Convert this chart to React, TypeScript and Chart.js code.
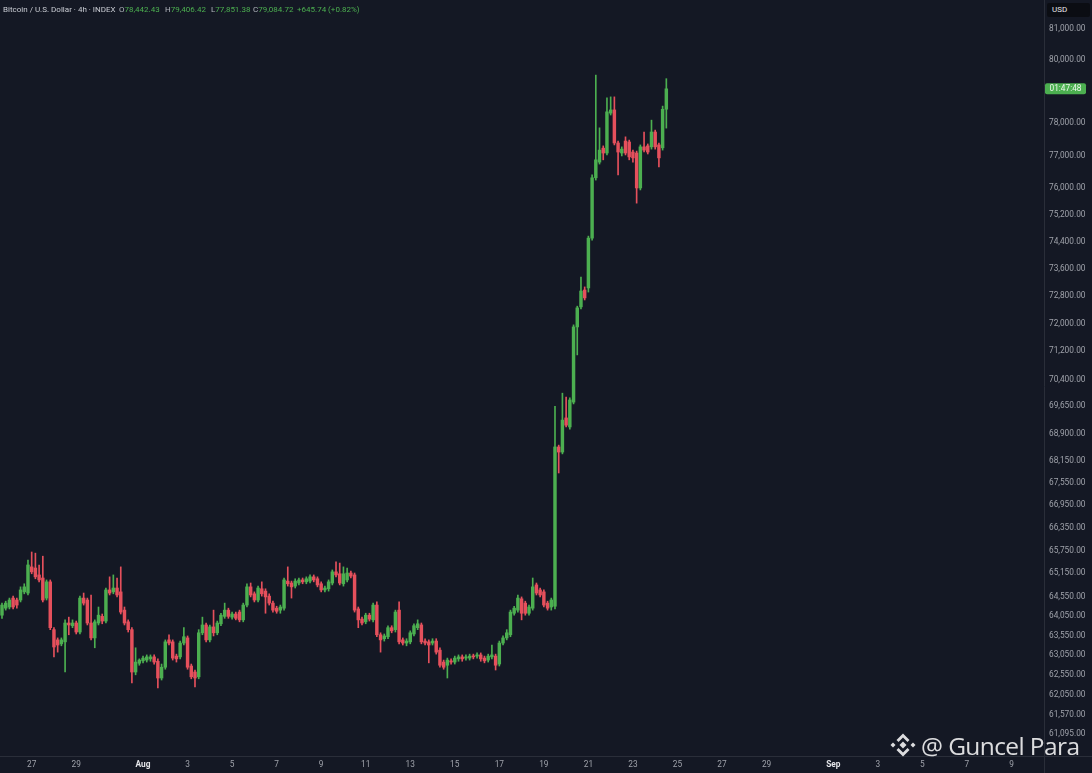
import { useEffect, useRef } from "react";
import { Chart, registerables, type Plugin } from "chart.js";

Chart.register(...registerables);

// 4h candles, x measured in days from Jul 27 00:00
const FIRST_BAR_DAY = -4 / 3; // Jul 25 16:00
const BAR_DAYS = 1 / 6;

const OPEN = [
  64070, 64250, 64280, 64510, 64460, 64460, 64670, 64640, 65320, 65290,
  65110, 65030, 64510, 64930, 63700, 63440, 63340, 63390, 63870, 63800,
  63870, 63640, 64510, 64460, 63870, 63490, 63870, 64040, 63920, 64720,
  64670, 64770, 64670, 64200, 63900, 63700, 62630, 62850, 62910, 62930,
  62960, 63010, 62900, 62480, 62750, 63440, 63390, 63030, 63010, 63360,
  63490, 62780, 62630, 62510, 63620, 63820, 63440, 63770, 63620, 63850,
  64040, 64200, 64020, 64100, 64150, 63950, 64330, 64800, 64620, 64460,
  64750, 64690, 64560, 64380, 64250, 64200, 64250, 64950, 64900, 64820,
  64900, 64980, 64930, 64950, 65060, 65010, 64880, 64720, 64750, 64900,
  65190, 65140, 64880, 64980, 65160, 65110, 64230, 63970, 63900, 64070,
  63950, 64330, 63570, 63470, 63520, 63750, 63700, 64200, 63440, 63360,
  63390, 63590, 63750, 63820, 63410, 63390, 63360, 63410, 63180, 62880,
  62800, 62910, 62880, 62960, 63010, 62980, 62980, 63030, 63030, 63060,
  62980, 62930, 63010, 63030, 62830, 63360, 63490, 63570, 64120, 64200,
  64490, 64380, 64120, 64250, 64850, 64720, 64670, 64380, 64280, 64300,
  68530, 68390, 69330, 69080, 69770, 71900, 72480, 72970, 73030, 74500,
  76320, 76800, 77230, 77080, 78320, 78420, 77390, 77080, 77450, 77420,
  77110, 77080, 76010, 77270, 77300, 77270, 77730, 77330, 77240, 78442.43,
];
const HIGH = [
  64380, 64430, 64510, 64560, 64510, 64800, 64880, 65500, 65710, 65680,
  65370, 65600, 64980, 64980, 63750, 63490, 63490, 63950, 64020, 63950,
  63920, 64560, 64640, 64510, 64590, 63950, 64280, 64100, 64770, 65060,
  65110, 65030, 65320, 64280, 63950, 63750, 63240, 62960, 63030, 63060,
  63060, 63060, 62960, 62830, 63440, 63570, 63440, 63080, 63410, 63750,
  63540, 62830, 62680, 63700, 64020, 63870, 63820, 64200, 63920, 64120,
  64380, 64250, 64150, 64150, 64200, 64380, 64880, 64900, 64670, 64820,
  64930, 64750, 64620, 64430, 64300, 64330, 65030, 65320, 64950, 65010,
  65030, 65030, 65060, 65110, 65110, 65060, 64930, 64820, 64980, 65240,
  65450, 65420, 65320, 65290, 65210, 65160, 64280, 64020, 64120, 64120,
  64380, 64410, 63620, 63590, 63800, 63800, 64200, 64410, 63490, 63470,
  63670, 63850, 63950, 63870, 63470, 63440, 63470, 63470, 63240, 62930,
  62980, 62960, 63030, 63060, 63060, 63060, 63080, 63080, 63110, 63110,
  63030, 63080, 63310, 63080, 63410, 63540, 63700, 64200, 64300, 64590,
  64540, 64430, 64330, 65030, 64900, 64770, 64720, 64430, 64510, 69650,
  68580, 70020, 69910, 69890, 71960, 72500, 73350, 73060, 74560, 76410,
  79520, 77860, 77300, 78800, 78830, 78830, 77450, 77270, 77580, 77480,
  77170, 77140, 77330, 77730, 77360, 78100, 77790, 77390, 78540, 79406.42,
];
const LOW = [
  63990, 64200, 64230, 64230, 64250, 64410, 64620, 64590, 65140, 65010,
  64930, 64410, 64460, 63700, 63010, 63130, 63290, 62630, 63570, 63750,
  63590, 63590, 64330, 63820, 63440, 63240, 63820, 63850, 63870, 64590,
  64620, 64540, 64100, 63820, 63640, 62360, 62560, 62800, 62860, 62880,
  62900, 62830, 62230, 62430, 62700, 63310, 62930, 62880, 62960, 63310,
  62700, 62460, 62260, 62460, 63570, 63390, 63390, 63540, 63570, 63800,
  63990, 63990, 63970, 63950, 63900, 63900, 64280, 64540, 64410, 64410,
  64560, 64120, 64330, 64150, 64120, 64120, 64200, 64820, 64510, 64770,
  64850, 64880, 64880, 64900, 64930, 64800, 64670, 64670, 64690, 64850,
  65060, 64850, 64820, 64930, 65030, 64150, 63750, 63820, 63850, 63920,
  63900, 63520, 63130, 63410, 63470, 63620, 63640, 63340, 63310, 63290,
  63340, 63540, 63700, 63340, 63310, 62860, 63310, 63080, 62750, 62700,
  62480, 62830, 62830, 62900, 62900, 62930, 62930, 62960, 62980, 62900,
  62860, 62880, 62960, 62680, 62780, 63310, 63440, 63520, 64070, 64150,
  63950, 64070, 64070, 64200, 64590, 64540, 64280, 64200, 64200, 64230,
  67820, 68340, 69080, 69020, 69720, 71100, 72420, 72680, 72910, 74440,
  76250, 76740, 76870, 77020, 78260, 77330, 76410, 76990, 77020, 76870,
  76800, 75550, 75950, 77110, 77050, 77200, 77200, 76650, 77170, 77851.38,
];
const CLOSE = [
  64330, 64380, 64460, 64280, 64330, 64720, 64800, 65370, 65190, 65060,
  64980, 64460, 64930, 63750, 63260, 63310, 63440, 63870, 63820, 63870,
  63640, 64510, 64380, 63870, 63490, 63900, 64070, 63920, 64720, 64640,
  64770, 64590, 64150, 63870, 63700, 62630, 62880, 62930, 62980, 63010,
  63010, 62880, 62480, 62750, 63390, 63360, 62980, 62960, 63360, 63520,
  62750, 62510, 62480, 63620, 63820, 63440, 63770, 63620, 63870, 64070,
  64200, 64040, 64100, 63990, 63950, 64330, 64800, 64590, 64460, 64770,
  64620, 64540, 64380, 64200, 64170, 64280, 64980, 64880, 64800, 64950,
  64980, 64930, 65010, 65060, 64980, 64850, 64720, 64770, 64930, 65190,
  65110, 64900, 65140, 65160, 65080, 64200, 63950, 63870, 64070, 63970,
  64330, 63570, 63440, 63540, 63750, 63670, 64150, 63390, 63360, 63410,
  63620, 63800, 63850, 63390, 63360, 63310, 63410, 63130, 62800, 62750,
  62930, 62880, 62980, 63010, 62960, 63010, 63030, 63010, 63060, 62960,
  62910, 63030, 63060, 62800, 63360, 63490, 63620, 64150, 64250, 64510,
  64120, 64120, 64280, 64800, 64640, 64590, 64330, 64250, 64460, 68530,
  68390, 69270, 69130, 69830, 71900, 72450, 72940, 72740, 74500, 76320,
  76870, 77170, 77080, 78360, 78420, 77390, 77110, 77200, 77080, 76960,
  76930, 76010, 77270, 77170, 77110, 77730, 77270, 76930, 78440, 79084.72,
];

const Y_TICKS = [
  81000, 80000, 78000, 77000, 76000, 75200, 74400, 73600, 72800, 72000,
  71200, 70400, 69650, 68900, 68150, 67550, 66950, 66350, 65750, 65150,
  64550, 64050, 63550, 63050, 62550, 62050, 61570, 61095,
];
const Y_MIN = 60561;
const Y_MAX = 81945;

const X_TICK_DAYS = [0, 2, 5, 7, 9, 11, 13, 15, 17, 19, 21, 23, 25, 27, 29, 31, 33, 36, 38, 40, 42, 44];
const X_TICK_LABELS = ["27", "29", "Aug", "3", "5", "7", "9", "11", "13", "15", "17", "19", "21", "23", "25", "27", "29", "Sep", "3", "5", "7", "9"];
const MONTHS = ["Aug", "Sep"];
const X_MIN = -1.423;
const X_MAX = 45.46;

const TITLE = "Bitcoin / U.S. Dollar · 4h · INDEX";
const LAST_OHLC = [
  { k: "O", v: "78,442.43", x: 119 },
  { k: "H", v: "79,406.42", x: 165 },
  { k: "L", v: "77,851.38", x: 211 },
  { k: "C", v: "79,084.72", x: 253 },
];
const CHANGE = "+645.74 (+0.82%)";
const COUNTDOWN = "01:47:48";

const BG = "#141824";
const UP = "#4caf50";
const DOWN = "#e5505c";
const AXIS_TEXT = "#9fa2aa";
const LINE = "#2a2e39";
const FONT = "Roboto, 'Noto Sans', sans-serif";

const framePlugin: Plugin<"bar"> = {
  id: "frame",
  afterDraw(chart) {
    const { ctx, chartArea, width, height, scales } = chart;
    const bottom = Math.round(chartArea.bottom) + 0.5;
    const right = Math.round(chartArea.right) + 0.5;
    ctx.save();
    ctx.strokeStyle = LINE;
    ctx.lineWidth = 1;
    ctx.beginPath();
    ctx.moveTo(0, bottom);
    ctx.lineTo(width, bottom);
    ctx.moveTo(right, 0);
    ctx.lineTo(right, height);
    ctx.stroke();

    // last price / countdown label
    const y = scales.y.getPixelForValue(CLOSE[CLOSE.length - 1]);
    ctx.fillStyle = UP;
    ctx.beginPath();
    ctx.roundRect(right + 0.5, y - 5.5, 41, 11, 2);
    ctx.fill();
    ctx.fillStyle = "#eaf7ea";
    ctx.font = `8.3px ${FONT}`;
    ctx.textBaseline = "middle";
    ctx.fillText(COUNTDOWN, right + 5, y + 0.5);
    ctx.restore();
  },
};

function CandleChart() {
  const ref = useRef<HTMLCanvasElement>(null);

  useEffect(() => {
    if (!ref.current) return;
    const xs = OPEN.map((_, i) => FIRST_BAR_DAY + i * BAR_DAYS);
    const colors = OPEN.map((o, i) => (CLOSE[i] >= o ? UP : DOWN));

    const chart = new Chart(ref.current, {
      type: "bar",
      data: {
        datasets: [
          {
            label: "body",
            data: xs.map((x, i) => ({ x, y: [OPEN[i], CLOSE[i]] })),
            backgroundColor: colors,
            barThickness: 2.8,
            minBarLength: 1,
            grouped: false,
            order: 0,
          },
          {
            label: "wick",
            data: xs.map((x, i) => ({ x, y: [LOW[i], HIGH[i]] })),
            backgroundColor: colors,
            barThickness: 1,
            grouped: false,
            order: 1,
          },
        ],
      } as any,
      options: {
        responsive: true,
        maintainAspectRatio: false,
        animation: false,
        events: [],
        layout: { padding: 0 },
        plugins: { legend: { display: false }, tooltip: { enabled: false } },
        scales: {
          x: {
            type: "linear",
            min: X_MIN,
            max: X_MAX,
            offset: false,
            grid: { display: false, drawTicks: false },
            border: { display: false },
            afterBuildTicks: (s) => {
              s.ticks = X_TICK_DAYS.map((value) => ({ value }));
            },
            afterFit: (s) => {
              s.height = 17;
              s.paddingLeft = 0;
              s.paddingRight = 0;
            },
            ticks: {
              autoSkip: false,
              maxRotation: 0,
              padding: 4,
              color: (c) => (MONTHS.includes(X_TICK_LABELS[c.index]) ? "#e4e5e9" : AXIS_TEXT),
              font: (c) => ({
                family: FONT,
                size: 8.3,
                weight: MONTHS.includes(X_TICK_LABELS[c.index]) ? "bold" : "normal",
              }),
              callback: (_v, i) => X_TICK_LABELS[i],
            },
          },
          y: {
            type: "logarithmic",
            position: "right",
            min: Y_MIN,
            max: Y_MAX,
            beginAtZero: false,
            grid: { display: false, drawTicks: false },
            border: { display: false },
            afterBuildTicks: (s) => {
              s.ticks = Y_TICKS.map((value) => ({ value }));
            },
            afterFit: (s) => {
              s.width = 48;
              s.paddingTop = 0;
              s.paddingBottom = 0;
            },
            ticks: {
              autoSkip: false,
              padding: 5,
              color: AXIS_TEXT,
              font: { family: FONT, size: 8.3 },
              callback: (v) =>
                Number(v).toLocaleString("en-US", { minimumFractionDigits: 2, maximumFractionDigits: 2 }),
            },
          },
        },
      },
      plugins: [framePlugin],
    });
    return () => chart.destroy();
  }, []);

  return (
    <div style={{ position: "absolute", inset: 0 }}>
      <canvas ref={ref} />
    </div>
  );
}

function BinanceMark() {
  return (
    <svg width={28} height={28} viewBox="0 0 28 28" style={{ position: "absolute", left: 889, top: 731 }}>
      <g fill="rgba(255,255,255,0.85)">
        <polygon points="14,10.5 17.5,14 14,17.5 10.5,14" />
        <polygon points="4,11.5 6.5,14 4,16.5 1.5,14" />
        <polygon points="24,11.5 26.5,14 24,16.5 21.5,14" />
        <polygon points="14,2.5 20.5,9 18.5,11 14,6.5 9.5,11 7.5,9" />
        <polygon points="14,25.5 20.5,19 18.5,17 14,21.5 9.5,17 7.5,19" />
      </g>
    </svg>
  );
}

export default function App() {
  return (
    <div
      style={{
        position: "fixed",
        left: 0,
        top: 0,
        width: 1092,
        height: 773,
        background: BG,
        overflow: "hidden",
        fontFamily: FONT,
      }}
    >
      <CandleChart />
      <div style={{ position: "absolute", left: 0, top: 4, fontSize: 8, lineHeight: "11px", whiteSpace: "nowrap" }}>
        <span style={{ position: "absolute", left: 3, color: "#c9ccd3" }}>{TITLE}</span>
        {LAST_OHLC.map((d) => (
          <span key={d.k} style={{ position: "absolute", left: d.x, color: "#b2b5be" }}>
            {d.k}
            <span style={{ color: UP }}>{d.v}</span>
          </span>
        ))}
        <span style={{ position: "absolute", left: 297, color: UP }}>{CHANGE}</span>
      </div>
      <div
        style={{
          position: "absolute",
          left: 1047,
          top: 3,
          width: 43,
          height: 14,
          background: "#0b0d13",
          borderRadius: 2,
          color: "#e6e7ea",
          fontSize: 8,
          lineHeight: "14px",
          paddingLeft: 5,
          boxSizing: "border-box",
        }}
      >
        USD
      </div>
      <BinanceMark />
      <div
        style={{
          position: "absolute",
          left: 921,
          top: 732,
          fontFamily: "'Open Sans', sans-serif",
          fontSize: 24.5,
          letterSpacing: -0.6,
          lineHeight: "27px",
          color: "rgba(255,255,255,0.85)",
          whiteSpace: "nowrap",
        }}
      >
        @ Guncel Para
      </div>
    </div>
  );
}
